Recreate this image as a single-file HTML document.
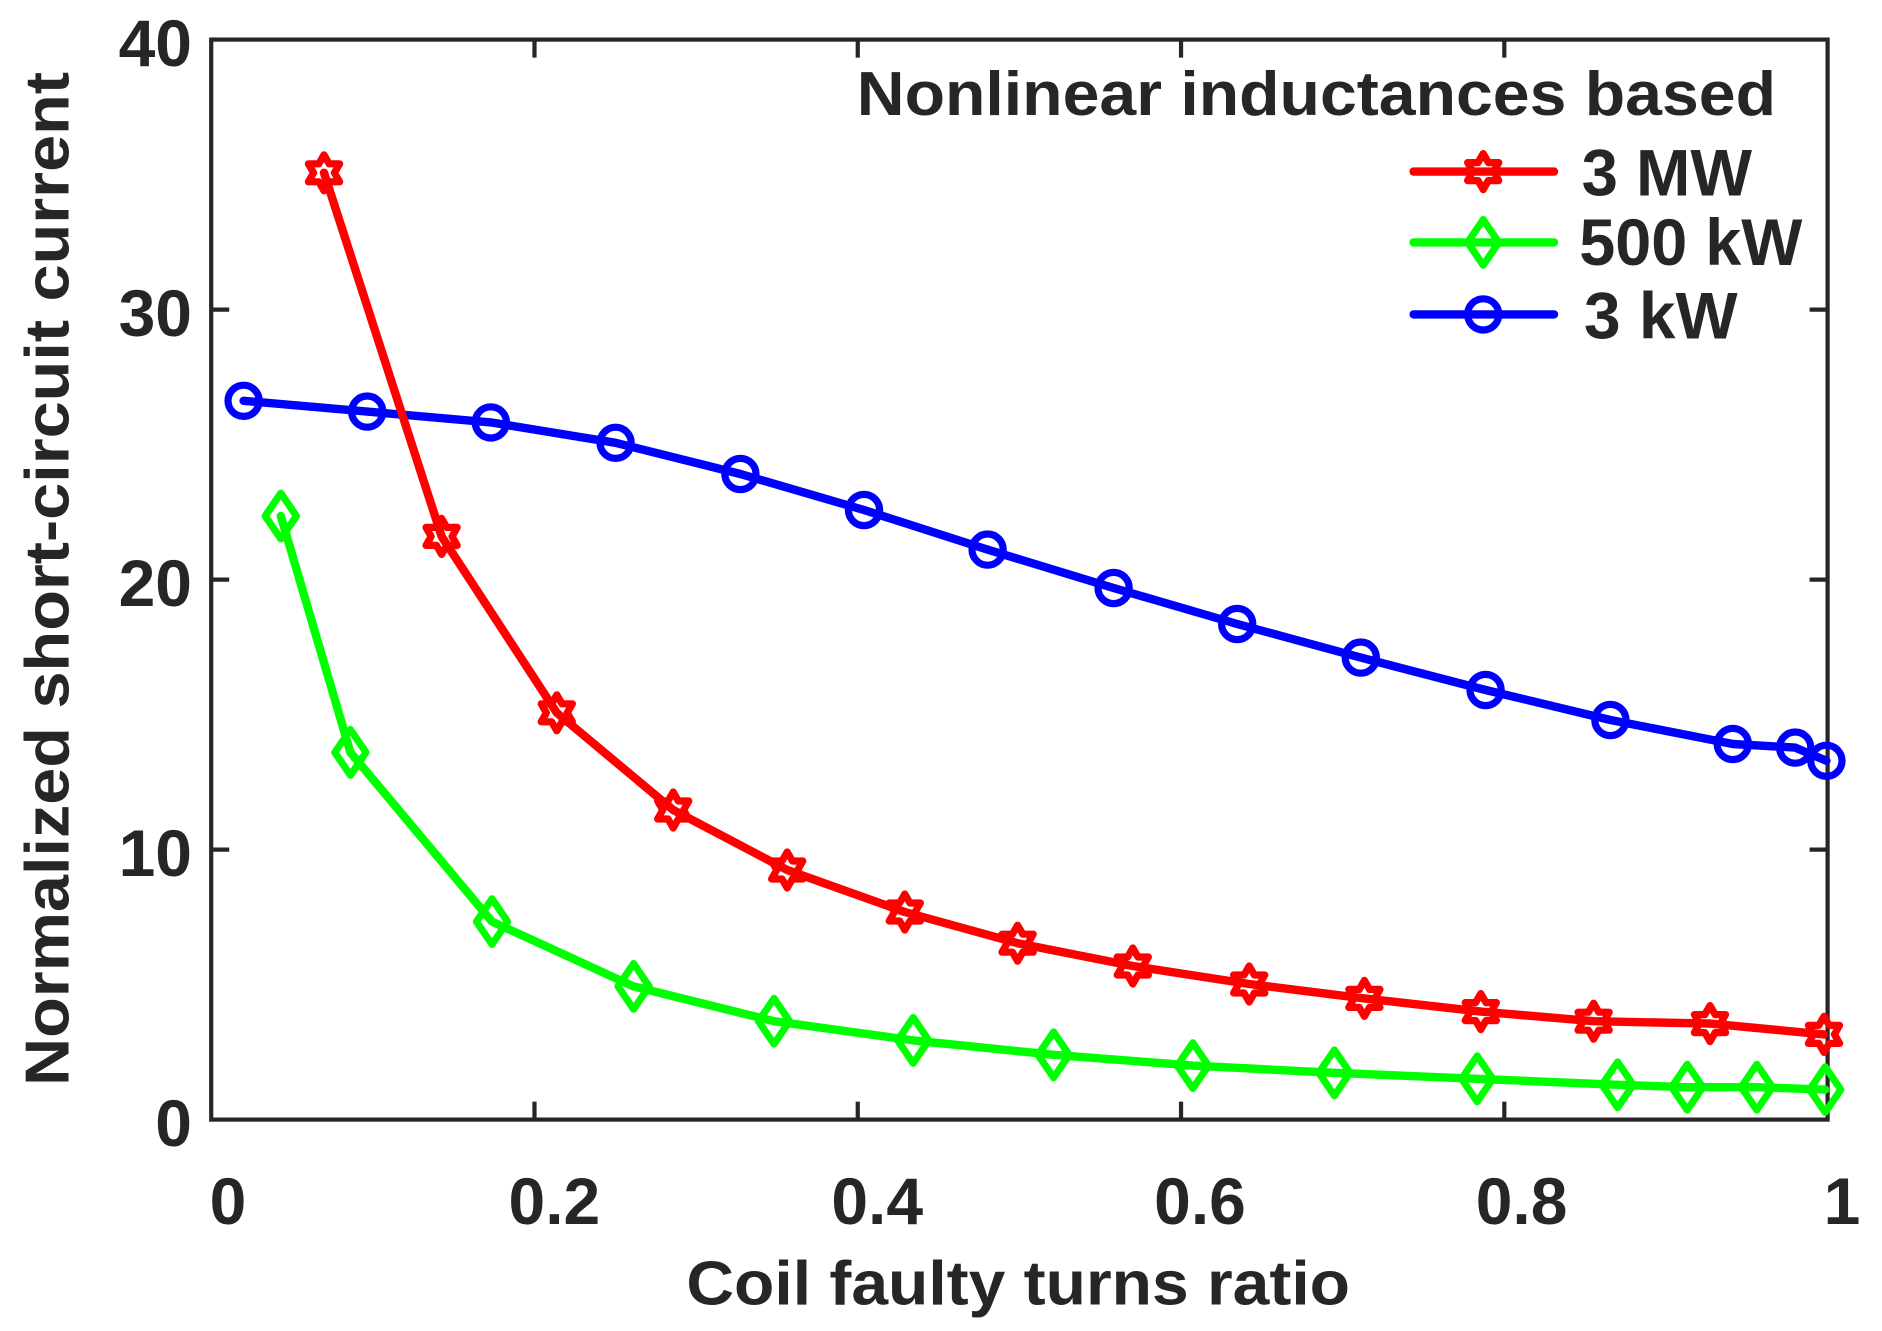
<!DOCTYPE html>
<html><head><meta charset="utf-8"><style>html,body{margin:0;padding:0;background:#fff}svg{display:block}</style></head>
<body>
<svg width="1882" height="1331" viewBox="0 0 1568.33 1109.17" xmlns="http://www.w3.org/2000/svg" font-family="'Liberation Sans',Arial,sans-serif" font-weight="bold" fill="#262626">
<defs>
<g id="hex"><polygon points="0,-15 4.3,-7.5 13,-7.5 8.7,0 13,7.5 4.3,7.5 0,15 -4.3,7.5 -13,7.5 -8.7,0 -13,-7.5 -4.3,-7.5" fill="none" stroke="#ff0000" stroke-width="6" stroke-linejoin="round"/></g>
<g id="dia"><polygon points="0,-19 13,0 0,19 -13,0" fill="none" stroke="#00ff00" stroke-width="6" stroke-linejoin="round"/></g>
<g id="cir"><circle r="13" fill="none" stroke="#0000ff" stroke-width="6"/></g>
</defs>
<rect width="1568.33" height="1109.17" fill="#fff"/>
<g stroke="#262626" stroke-width="3.5" fill="none">
<rect x="176" y="33" width="1347" height="900"/>
<path d="M176,258h15M176,483h15M176,708h15M1523,258h-15M1523,483h-15M1523,708h-15
M445.4,933v-15M714.8,933v-15M984.2,933v-15M1253.6,933v-15
M445.4,33v15M714.8,33v15M984.2,33v15M1253.6,33v15"/>
</g>
<g font-size="55" text-anchor="end">
<text x="160" y="55">40</text>
<text x="160" y="280">30</text>
<text x="160" y="505">20</text>
<text x="160" y="730">10</text>
<text x="160" y="955">0</text>
</g>
<g font-size="55" text-anchor="middle">
<text x="190" y="1020">0</text>
<text x="462" y="1020">0.2</text>
<text x="731" y="1020">0.4</text>
<text x="1000" y="1020">0.6</text>
<text x="1268" y="1020">0.8</text>
<text x="1535" y="1020">1</text>
</g>
<text x="572" y="1087" font-size="52" textLength="553" lengthAdjust="spacingAndGlyphs">Coil faulty turns ratio</text>
<text transform="translate(57,905) rotate(-90)" font-size="52" textLength="845" lengthAdjust="spacingAndGlyphs">Normalized short-circuit current</text>
<g fill="none" stroke-width="7" stroke-linejoin="round" stroke-linecap="round">
<polyline stroke="#0000ff" points="203,334 306,343 409,352 513,369 617,395 720,425 823,458 928,490 1031,520 1134,548 1238,575 1342,600 1444,620 1496,623 1522,634"/>
<polyline stroke="#ff0000" points="270,144 368,447 464,594 561,675 656,725 754,760 848,786 944,805 1041,820 1137,832 1234,843 1328,851 1425,853 1520,862"/>
<polyline stroke="#00ff00" points="234,430 292,627 410,768 528,822 645,851 761,867 878,879 994,888 1112,894 1231,899 1348,904 1406,906 1464,906 1521,908"/>
</g>
<g>
<use href="#cir" x="203" y="334"/><use href="#cir" x="306" y="343"/><use href="#cir" x="409" y="352"/><use href="#cir" x="513" y="369"/><use href="#cir" x="617" y="395"/><use href="#cir" x="720" y="425"/><use href="#cir" x="823" y="458"/><use href="#cir" x="928" y="490"/><use href="#cir" x="1031" y="520"/><use href="#cir" x="1134" y="548"/><use href="#cir" x="1238" y="575"/><use href="#cir" x="1342" y="600"/><use href="#cir" x="1444" y="620"/><use href="#cir" x="1496" y="623"/><use href="#cir" x="1522" y="634"/>
<use href="#hex" x="270" y="144"/><use href="#hex" x="368" y="447"/><use href="#hex" x="464" y="594"/><use href="#hex" x="561" y="675"/><use href="#hex" x="656" y="725"/><use href="#hex" x="754" y="760"/><use href="#hex" x="848" y="786"/><use href="#hex" x="944" y="805"/><use href="#hex" x="1041" y="820"/><use href="#hex" x="1137" y="832"/><use href="#hex" x="1234" y="843"/><use href="#hex" x="1328" y="851"/><use href="#hex" x="1425" y="853"/><use href="#hex" x="1520" y="862"/>
<use href="#dia" x="234" y="430"/><use href="#dia" x="292" y="627"/><use href="#dia" x="410" y="768"/><use href="#dia" x="528" y="822"/><use href="#dia" x="645" y="851"/><use href="#dia" x="761" y="867"/><use href="#dia" x="878" y="879"/><use href="#dia" x="994" y="888"/><use href="#dia" x="1112" y="894"/><use href="#dia" x="1231" y="899"/><use href="#dia" x="1348" y="904"/><use href="#dia" x="1406" y="906"/><use href="#dia" x="1464" y="906"/><use href="#dia" x="1521" y="908"/>
</g>
<text x="714" y="96" font-size="52" textLength="766" lengthAdjust="spacingAndGlyphs">Nonlinear inductances based</text>
<g stroke-width="7" stroke-linecap="round">
<line x1="1178" y1="143" x2="1295" y2="143" stroke="#ff0000"/>
<line x1="1178" y1="202" x2="1295" y2="202" stroke="#00ff00"/>
<line x1="1178" y1="262" x2="1295" y2="262" stroke="#0000ff"/>
</g>
<use href="#hex" x="1236" y="143"/><use href="#dia" x="1236" y="202"/><use href="#cir" x="1236" y="262"/>
<g font-size="55">
<text x="1318" y="163" textLength="142" lengthAdjust="spacingAndGlyphs">3 MW</text>
<text x="1316" y="221" textLength="186" lengthAdjust="spacingAndGlyphs">500 kW</text>
<text x="1320" y="282" textLength="128" lengthAdjust="spacingAndGlyphs">3 kW</text>
</g>
</svg>
</body></html>
